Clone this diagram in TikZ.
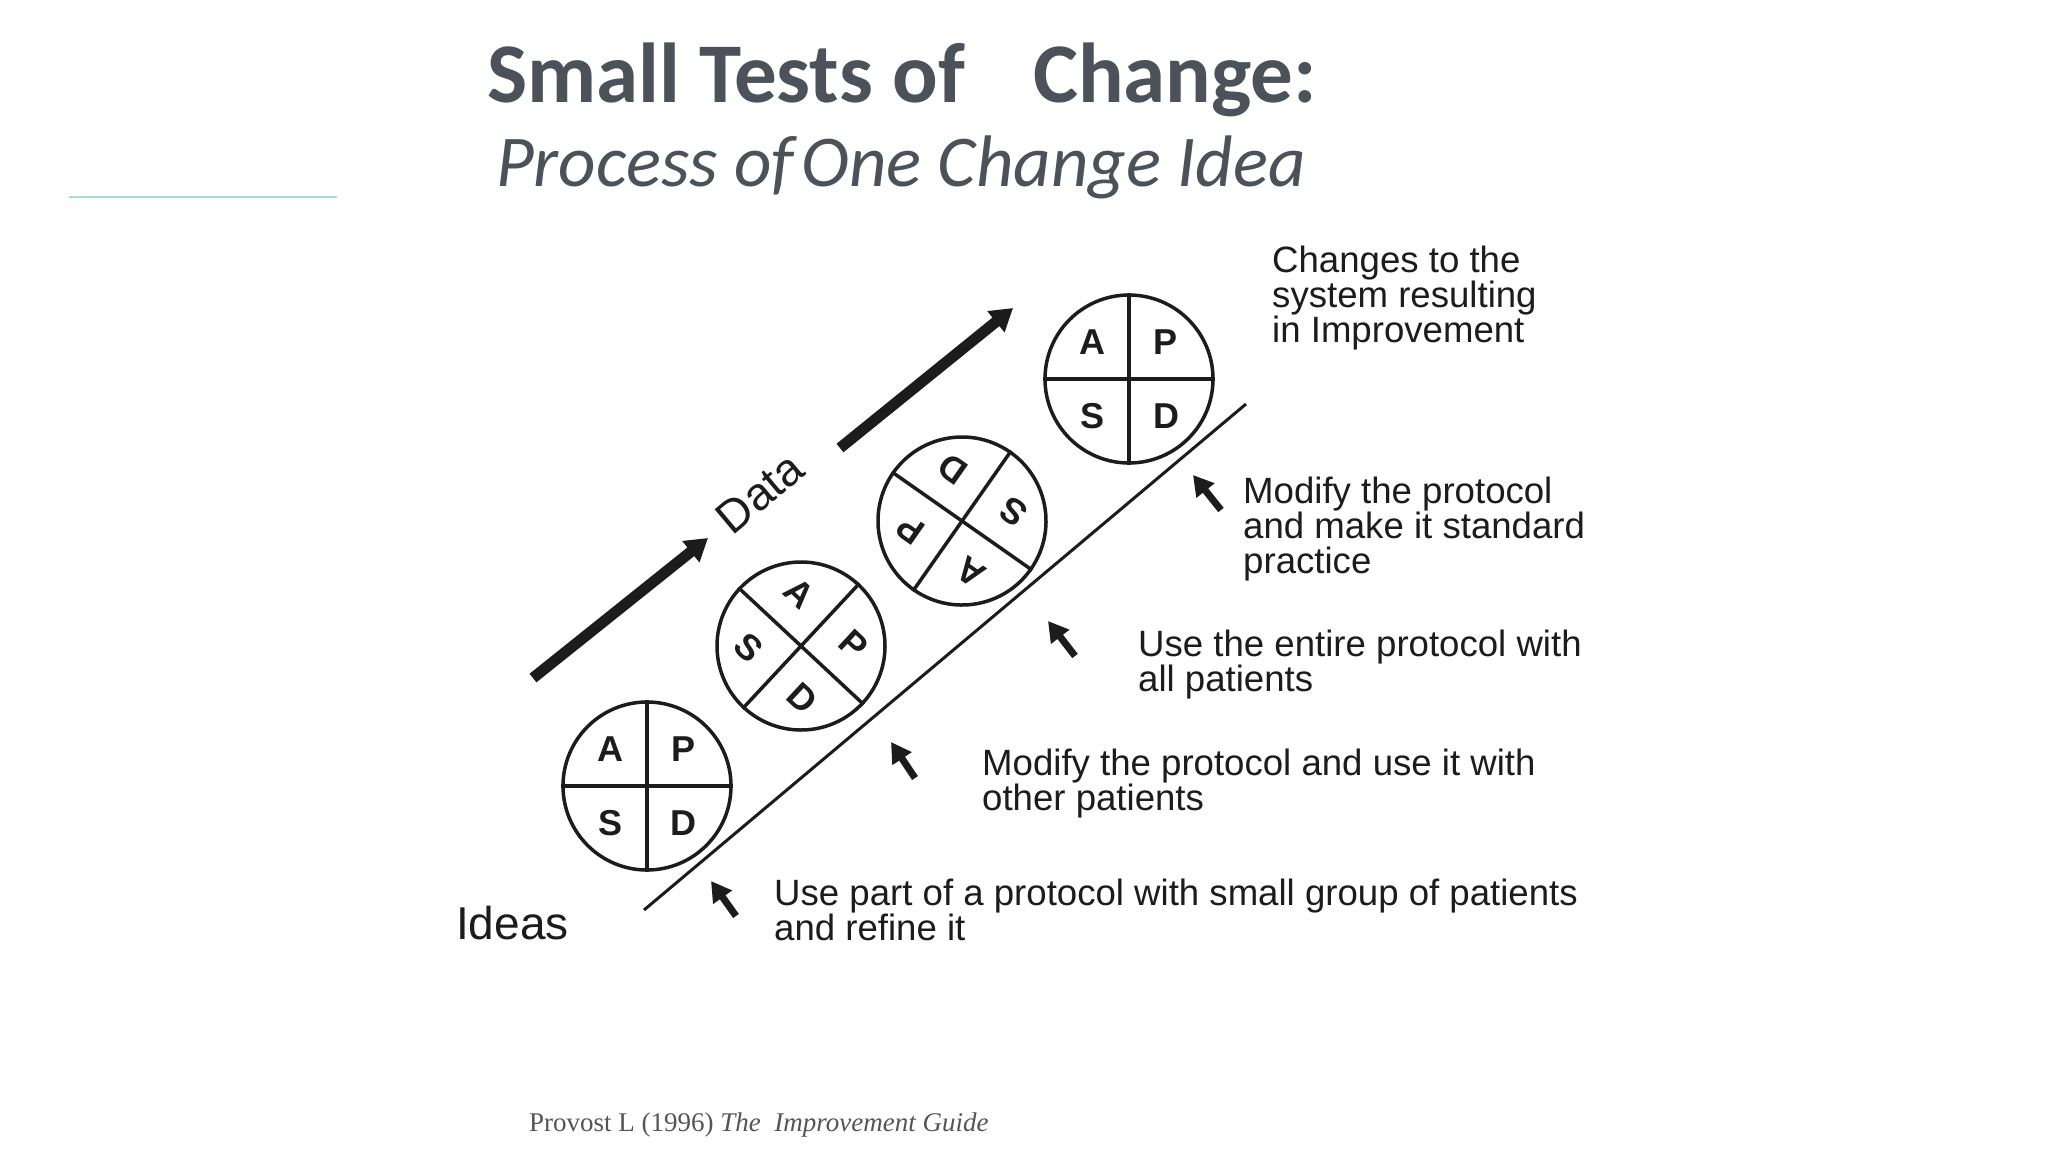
\documentclass[tikz,border=0pt]{standalone}
\usepackage{fontspec}
\setmainfont{Liberation Sans}
\newfontfamily\headfont{Carlito}
\newfontfamily\citefont{Liberation Serif}
\usetikzlibrary{calc,arrows.meta}

\definecolor{slide_grey}{HTML}{4B5259}
\definecolor{slide_teal}{HTML}{A8DCD4}
\definecolor{cite_grey}{HTML}{555555}
\definecolor{ink}{HTML}{1C1C1C}

\tikzstyle{heading}    = [anchor=base, inner sep=0, text=slide_grey, font=\headfont\bfseries\fontsize{85}{85}\selectfont]
\tikzstyle{subheading} = [heading, font=\headfont\itshape\fontsize{73}{73}\selectfont]
\tikzstyle{step_text}  = [anchor=base west, align=left, inner sep=0, text=ink, font=\fontsize{36.6}{35}\selectfont]
\tikzstyle{big_text}   = [inner sep=0, text=ink, font=\fontsize{46}{46}\selectfont]
\tikzstyle{cite}       = [anchor=base west, inner sep=0, text=cite_grey, font=\citefont\fontsize{27}{27}\selectfont]
\tikzstyle{wheel}      = [circle, draw=ink, line width=3.5pt, minimum size=168pt, inner sep=0]
\tikzstyle{wheel_line} = [draw=ink, line width=3.5pt]
\tikzstyle{letter}     = [inner sep=0, text=ink, font=\bfseries\fontsize{36}{36}\selectfont]
\tikzstyle{data_arrow} = [draw=ink, line width=11pt, -{Triangle[length=22pt, width=26pt]}]
\tikzstyle{step_arrow} = [draw=ink, line width=7pt, -{Triangle[length=20pt, width=22pt]}]

% one PDSA wheel: name, centre, turn
\newcommand{\pdsa}[3]{%
   \node at (#2) [wheel, rotate=#3] (#1) {};
   \draw [wheel_line] (#1.north) -- (#1.south);
   \draw [wheel_line] (#1.west) -- (#1.east);
   \node at ($(#1.center)!0.61!(#1.north west)$) [letter, rotate=#3] (#1 A) {A};
   \node at ($(#1.center)!0.61!(#1.north east)$) [letter, rotate=#3] (#1 P) {P};
   \node at ($(#1.center)!0.61!(#1.south east)$) [letter, rotate=#3] (#1 D) {D};
   \node at ($(#1.center)!0.61!(#1.south west)$) [letter, rotate=#3] (#1 S) {S};
}

\begin{document}
\begin{tikzpicture}[x=1pt, y=-1pt]
   \fill [white] (0,0) rectangle (2048,1152);
   \useasboundingbox (0,0) rectangle (2048,1152);

   % Heading
   \node at (902, 102) [heading] (title) {Small Tests of\hspace{0.8em}Change:};
   \node at (901, 186) [subheading] (subtitle) {Process of\hspace{0.1em}One Change Idea};
   \coordinate (rule start) at (69, 197);
   \coordinate (rule end) at (337, 197);
   \draw [slide_teal, line width=2pt] (rule start) -- (rule end);

   % Slope
   \coordinate (slope bottom) at (644, 910);
   \coordinate (slope top) at (1246, 404);
   \draw [wheel_line, line width=3pt] (slope bottom) -- (slope top);

   % PDSA wheels
   \pdsa{wheel one}{647, 786}{0}
   \pdsa{wheel two}{801, 646}{-43}
   \pdsa{wheel three}{962, 521}{145}
   \pdsa{wheel four}{1129, 379}{0}

   % Data
   \coordinate (data low tail) at (533, 678);
   \coordinate (data low tip) at (708, 538);
   \coordinate (data high tail) at (840, 448);
   \coordinate (data high tip) at (1013, 308);
   \draw [data_arrow] (data low tail) -- (data low tip);
   \draw [data_arrow] (data high tail) -- (data high tip);
   \node at (760, 493) [big_text, rotate=40] (data) {Data};

   % Steps
   \coordinate (step one tail) at (736, 916);
   \coordinate (step one tip) at (711, 881);
   \coordinate (step two tail) at (915, 778);
   \coordinate (step two tip) at (891, 742);
   \coordinate (step three tail) at (1075, 656);
   \coordinate (step three tip) at (1048, 621);
   \coordinate (step four tail) at (1221, 510);
   \coordinate (step four tip) at (1193, 475);
   \draw [step_arrow] (step one tail) -- (step one tip);
   \draw [step_arrow] (step two tail) -- (step two tip);
   \draw [step_arrow] (step three tail) -- (step three tip);
   \draw [step_arrow] (step four tail) -- (step four tip);

   \node at (774, 940) [step_text] (step one) {Use part of a protocol with small group of patients\\and refine it};
   \node at (982, 810) [step_text] (step two) {Modify the protocol and use it with\\other patients};
   \node at (1138, 691) [step_text] (step three) {Use the entire protocol with\\all patients};
   \node at (1243, 573) [step_text] (step four) {Modify the protocol\\and make it standard\\practice};
   \node at (1272, 342) [step_text] (result) {Changes to the\\system resulting\\in Improvement};
   \node at (456, 939) [big_text, anchor=base west] (ideas) {Ideas};

   % Reference
   \node at (529, 1131) [cite] (source) {Provost L (1996) \textit{The\ \ Improvement Guide}};
\end{tikzpicture}
\end{document}
